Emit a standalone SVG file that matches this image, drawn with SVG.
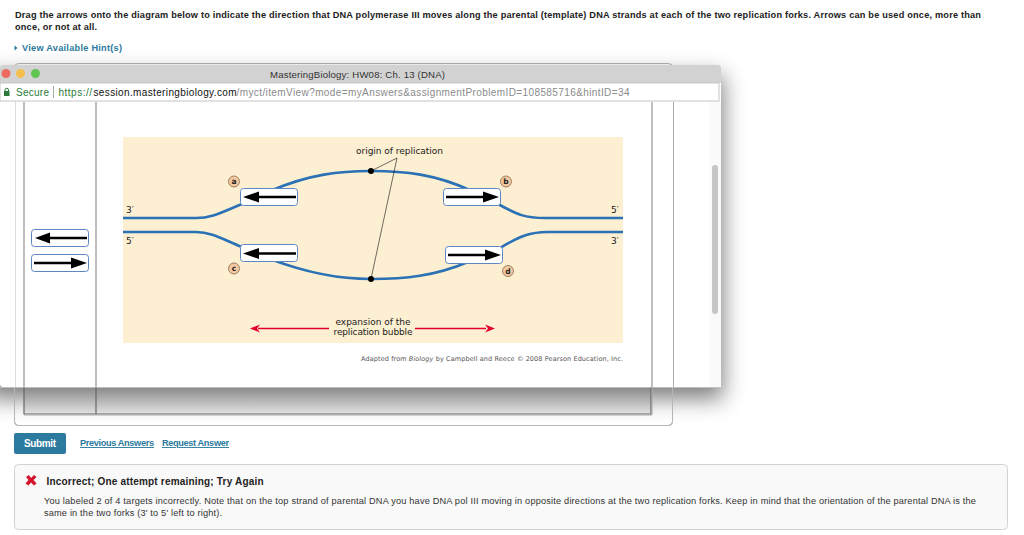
<svg xmlns="http://www.w3.org/2000/svg" width="1024" height="535" viewBox="0 0 1024 535">
<defs>
<style>
text{font-family:"Liberation Sans",Arial,sans-serif;fill:#222}
.b{font-weight:700}
.d{font-family:"DejaVu Sans",Verdana,sans-serif;fill:#222;font-size:9px}
.fr{fill:none;stroke:#aaa;stroke-width:1.5}
.dna{fill:none;stroke:#2a72b5;stroke-width:2.6}
.box{fill:#fff;stroke:#5f86c4;stroke-width:1}
.arr{stroke:#000;stroke-width:2.6;fill:none}
.head{fill:#000}
.lab{fill:#f3c8a0;stroke:#86684e;stroke-width:.8}
.lt{font-family:"DejaVu Sans",sans-serif;font-size:7.5px;font-weight:700;fill:#222;text-anchor:middle}
.link{fill:#2c7a9e;font-weight:700}
.red{stroke:#e4002b;stroke-width:1.5;fill:none}
.redh{fill:#e4002b}
</style>
<filter id="sh" x="-15%" y="-25%" width="130%" height="150%"><feGaussianBlur stdDeviation="11"/></filter>
<linearGradient id="g" x1="0" y1="0" x2="0" y2="1"><stop offset="0" stop-color="#8c8c8c"/><stop offset="1" stop-color="#e2e2e2"/></linearGradient>
</defs>
<rect width="1024" height="535" fill="#fff"/>

<g id="instructions">
<text class="b" x="15" y="18" font-size="9.200" textLength="966" lengthAdjust="spacing">Drag the arrows onto the diagram below to indicate the direction that DNA polymerase III moves along the parental (template) DNA strands at each of the two replication forks. Arrows can be used once, more than</text>
<text class="b" x="15" y="30" font-size="9.200" textLength="82" lengthAdjust="spacing">once, or not at all.</text>
<path d="M14.500 45.500l3 2.500l-3 2.500z" fill="#2c7a9e"/>
<text class="link" x="22" y="51" font-size="9.200" textLength="100">View Available Hint(s)</text>
</g>

<g id="back-frames">
<rect x="14.500" y="63.500" width="658" height="362" rx="4" fill="#fff" stroke="#b5b5b5"/>
</g>

<g id="window">
<rect x="-14" y="75" width="737" height="324" fill="#000" opacity=".5" filter="url(#sh)"/>
<rect x="14.500" y="380" width="658" height="45.500" rx="4" fill="none" stroke="#b5b5b5"/>
<rect x="0" y="65" width="721" height="322" rx="3" fill="#fff"/>
<rect x="0" y="65" width="721" height="18" rx="3" fill="#d2d2d2"/>
<rect x="0" y="73" width="721" height="10" fill="#d2d2d2"/>
<rect x="0" y="83" width="719" height="18" fill="#fff" stroke="#c4c4c4" stroke-width="1"/>
<rect x="709" y="102" width="12" height="285" fill="#fafafa"/>
<rect x="712" y="165" width="6" height="149" rx="3" fill="#c5c5c5"/>
<circle cx="6" cy="73.500" r="4.500" fill="#ed6a5e"/>
<circle cx="20.500" cy="73.500" r="4.500" fill="#f4bf4f"/>
<circle cx="35.500" cy="73.500" r="4.500" fill="#61c554"/>
<text x="270" y="77.500" font-size="9.600" textLength="175" style="fill:#333">MasteringBiology: HW08: Ch. 13 (DNA)</text>
<path d="M4 91h5.500v5H4z" fill="#2b7a3a"/><path d="M5 91v-1a1.700 1.700 0 0 1 3.500 0v1" fill="none" stroke="#2b7a3a"/>
<text x="16" y="96" font-size="10" textLength="33" style="fill:#2b7a3a">Secure</text>
<path d="M53.500 86v12" stroke="#aaa"/>
<text x="58.500" y="96" font-size="10" textLength="33.500" style="fill:#2b7a3a">https://</text>
<text x="93.500" y="96" font-size="10" textLength="143" style="fill:#111">session.masteringbiology.com</text>
<text x="236.500" y="96" font-size="10" textLength="393" style="fill:#8a8a8a">/myct/itemView?mode=myAnswers&amp;assignmentProblemID=108585716&amp;hintID=34</text>
</g>

<g id="frame">
<path class="fr" d="M24 102V387M96 102V387M652 102V387" />
<path d="M15.500 102V387" stroke="#ddd" fill="none"/>
<path d="M673.500 102V387" stroke="#aaa" fill="none"/>
<rect x="0" y="387" width="721" height="0.800" fill="#c9c9c9"/>
<rect x="24" y="388" width="627" height="26" fill="url(#g)"/>
<path d="M24 387.500V414H651V387.500M96 387.500V414" fill="none" stroke="#666" stroke-width="1.200"/>
<path d="M24 415H652V388" fill="none" stroke="#aaa"/>
</g>

<g id="palette">
<g id="palette-left"><rect class="box" x="31.500" y="229.500" width="57" height="17" rx="3"/><path class="arr" d="M46 238H87"/><path class="head" d="M35 238L50 232.500V243.500z"/></g>
<g id="palette-right"><rect class="box" x="31.500" y="254.500" width="57" height="17" rx="3"/><path class="arr" d="M34 263H74"/><path class="head" d="M87 263L71 257.500V268.500z"/></g>
</g>

<rect x="123" y="137" width="500" height="206" fill="#fdefd2"/>

<g id="connectors">
<path class="dna" d="M123 218H196C212 218 222 212 242 204"/>
<path class="dna" d="M123 232H196C212 232 224 240 242 247"/>
<path class="dna" d="M270 191C310 174 340 171 371 171C405 171 435 174 472 191"/>
<path class="dna" d="M270 259C310 274 340 279 371 279C405 279 435 276 468 262"/>
<path class="dna" d="M498 204C518 215 525 218 545 218H623"/>
<path class="dna" d="M500 248C520 236 530 232 548 232H623"/>
<path d="M371 171L397 158L371 279" fill="none" stroke="#111" stroke-width=".6"/>
<path class="red" d="M258 328.500H329M415 328.500H486"/>
<path class="redh" d="M250 328.500L260 324.500L257 328.500L260 332.500zM495 328.500L485 324.500L488 328.500L485 332.500z"/>
</g>

<g id="origin"><circle cx="371" cy="171" r="3" fill="#000"/><circle cx="371" cy="279" r="3" fill="#000"/>
<text class="d" x="399.500" y="153.500" text-anchor="middle" font-size="9" textLength="87">origin of replication</text></g>

<g id="arrow-a"><rect class="box" x="240.500" y="188.500" width="57" height="17" rx="3"/><path class="arr" d="M255 197H296"/><path class="head" d="M243 197L259 191.500V202.500z"/><circle class="lab" cx="234" cy="181.500" r="5.500"/><text class="lt" x="234" y="184">a</text></g>
<g id="arrow-c"><rect class="box" x="240.500" y="244.500" width="57" height="17" rx="3"/><path class="arr" d="M255 253.500H296"/><path class="head" d="M243 253.500L259 248V259z"/><circle class="lab" cx="234" cy="268.500" r="5.500"/><text class="lt" x="234" y="271">c</text></g>
<g id="arrow-b"><rect class="box" x="443.500" y="188.500" width="57" height="17" rx="3"/><path class="arr" d="M446 197H485"/><path class="head" d="M499 197L483 191.500V202.500z"/><circle class="lab" cx="506" cy="181.500" r="5.500"/><text class="lt" x="506" y="184">b</text></g>
<g id="arrow-d"><rect class="box" x="445.500" y="246.500" width="57" height="17" rx="3"/><path class="arr" d="M448 255H487"/><path class="head" d="M501 255L485 249.500V260.500z"/><circle class="lab" cx="508" cy="271" r="5.500"/><text class="lt" x="508" y="273.500">d</text></g>

<g id="labels">
<text class="d" x="126" y="213">3′</text>
<text class="d" x="126" y="244">5′</text>
<text class="d" x="611" y="213">5′</text>
<text class="d" x="611" y="244">3′</text>
<text class="d" x="373" y="324.500" text-anchor="middle" textLength="75">expansion of the</text>
<text class="d" x="373" y="334.500" text-anchor="middle" textLength="79">replication bubble</text>
<text class="d" x="361" y="361" style="font-size:6.500px;fill:#555" textLength="262">Adapted from <tspan font-style="italic">Biology</tspan> by Campbell and Reece © 2008 Pearson Education, Inc.</text>
</g>

<g id="submit">
<rect x="14" y="433" width="52" height="21" rx="2" fill="#2c7a9e"/>
<text class="b" x="24" y="447" font-size="10" textLength="32" style="fill:#fff">Submit</text>
<text class="link" x="80" y="446" font-size="9.200" text-decoration="underline" textLength="74">Previous Answers</text>
<text class="link" x="162" y="446" font-size="9.200" text-decoration="underline" textLength="67">Request Answer</text>
</g>

<g id="feedback">
<rect x="14.500" y="464.500" width="993" height="65" rx="4" fill="#f9f9f9" stroke="#d2d2d2"/>
<path d="M26 477l3-2 2 3 3-3 2.500 2-3 3 3 3.500-2.500 2-3-3-2.500 3-3-2 3-3.500z" fill="#d4142a"/>
<text class="b" x="46.500" y="485" font-size="10" textLength="217">Incorrect; One attempt remaining; Try Again</text>
<text x="44" y="504" font-size="9.200" textLength="932" style="fill:#333">You labeled 2 of 4 targets incorrectly. Note that on the top strand of parental DNA you have DNA pol III moving in opposite directions at the two replication forks. Keep in mind that the orientation of the parental DNA is the</text>
<text x="44" y="516" font-size="9.200" textLength="178" style="fill:#333">same in the two forks (3' to 5' left to right).</text>
</g>
</svg>
